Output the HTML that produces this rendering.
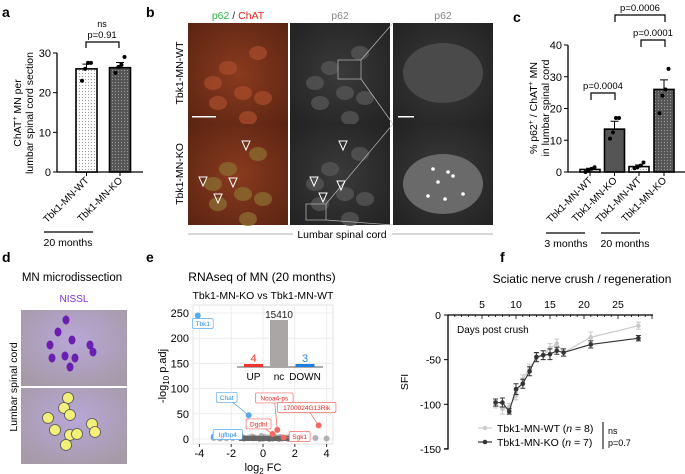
<!DOCTYPE html>
<html><head><meta charset="utf-8"><style>
body{margin:0;background:#fff}
svg{display:block;font-family:"Liberation Sans",Arial,sans-serif}
</style></head><body>
<svg id="fig" width="685" height="474" viewBox="0 0 685 474" xmlns="http://www.w3.org/2000/svg">
<defs>
<pattern id="dots" width="3" height="3" patternUnits="userSpaceOnUse"><rect width="3" height="3" fill="#fff"/><circle cx="1.5" cy="1.5" r="0.6" fill="#999"/></pattern>
<pattern id="dotsDark" width="3" height="3" patternUnits="userSpaceOnUse"><rect width="3" height="3" fill="#555"/><circle cx="1.5" cy="1.5" r="0.6" fill="#999"/></pattern>
<radialGradient id="redBg" cx="50%" cy="50%" r="70%"><stop offset="0" stop-color="#8a3a1e"/><stop offset="1" stop-color="#5a2412"/></radialGradient>
<radialGradient id="grayBg" cx="50%" cy="50%" r="70%"><stop offset="0" stop-color="#3a3a3a"/><stop offset="1" stop-color="#222"/></radialGradient>
<radialGradient id="nissl" cx="50%" cy="40%" r="70%"><stop offset="0" stop-color="#b9a7d8"/><stop offset="1" stop-color="#a59aa6"/></radialGradient>
</defs>
<g id="panelA"></g>
<g id="panelB"></g>
<g id="panelC"></g>
<g id="panelD"></g>
<g id="panelE"></g>
<g id="panelF"></g>
</svg>
<script>
// ---- data ----
const aCategories = ["Tbk1-MN-WT","Tbk1-MN-KO"];
const aMeans = [26, 26.3];
const aErr = [1.2, 1.3];
const aPoints = [[23,26,27.5,27.5],[25,26.5,27,29]];
const aTicks = [0,10,20,30];

const cCategories = ["Tbk1-MN-WT","Tbk1-MN-KO","Tbk1-MN-WT","Tbk1-MN-KO"];
const cMeans = [0.8, 13.5, 1.7, 26];
const cErr = [0.4, 2.5, 0.5, 3];
const cPoints = [[0,0.5,1,1.5],[10.5,12.5,17,17],[1.2,1.5,2,3],[18.5,24,26,32.5]];
const cTicks = [0,10,20,30,40];

const eTicksY = [0,50,100,150,200,250];
const eTicksX = [-4,-2,0,2,4];
const eGrayX = [-3.1,-2.7,-2.3,-1.9,-1.5,-1.3,-1.1,-0.9,-0.7,-0.5,-0.3,-0.1,0.1,0.3,0.5,0.7,0.9,1.1,1.3,1.5,1.7,1.9,2.1,2.3,2.5,2.7,3.3,4.0,-1.2,-0.6,0,0.6,1.2,1.8,2.4,-0.2,0.4,1.0,1.6,2.2];
const eGrayY = [2,1,1.5,2,3,4,2,3,5,3,2,6,4,3,2,5,3,4,2,3,5,2,4,3,2,1.5,2,1,1,1.5,1,1,1.2,1,1.1,0.5,0.6,0.5,0.6,0.5];
const eGenes = ["Tbk1","Chat","Igfbp4","Ncoa4-ps","1700024G13Rik","Dgdhl","Sgk1"];
const eGeneX = [-4.1,-0.9,-3.1,0.9,3.5,0.6,1.3];
const eGeneY = [245,47,5,18,27,10,3];
const eGeneDir = ["down","down","down","up","up","up","up"];
const eInsetCats = ["UP","nc","DOWN"];
const eInsetVals = [4,15410,3];

const fDays = [7,8,9,10,11,12,13,14,15,16,17,21,28];
const fWT = [-100,-105,-103,-90,-72,-60,-48,-45,-37,-32,-42,-25,-12];
const fWTerr = [4,6,4,5,5,5,5,5,5,5,4,6,4];
const fKO = [-98,-98,-108,-83,-77,-63,-47,-45,-44,-40,-42,-33,-26];
const fKOerr = [4,5,3,6,5,5,5,5,6,4,4,4,3];
const fTicksX = [5,10,15,20,25];
const fTicksY = [0,-50,-100,-150];

const NS="http://www.w3.org/2000/svg";
function el(parent,tag,attrs,text){const e=document.createElementNS(NS,tag);for(const k in attrs)e.setAttribute(k,attrs[k]);if(text!==undefined)e.textContent=text;parent.appendChild(e);return e;}

// ---- panel a ----
(function(){
const g=document.getElementById('panelA');
const ya=v=>172-v*(119/30);
const xs=[86.5,120];
let t=el(g,'text',{x:2,y:17,'font-size':14,'font-weight':'bold'},'a');

let ax=el(g,'path',{d:`M57,${ya(30)}V172H143`,stroke:'#000','stroke-width':1.3,fill:'none'});

aTicks.forEach(v=>{el(g,'line',{x1:53,x2:57,y1:ya(v),y2:ya(v),stroke:'#000'});
 let tl=el(g,'text',{x:51,y:ya(v)+4,'font-size':11,'text-anchor':'end'},v);
 });
let yl=el(g,'text',{transform:'translate(21,113) rotate(-90)','font-size':10.5,'text-anchor':'middle'});
yl.innerHTML='<tspan x="0" dy="0">ChAT<tspan font-size="7" dy="-4">+</tspan><tspan dy="4"> MN per</tspan></tspan><tspan x="0" dy="12">lumbar spinal cord section</tspan>';

aMeans.forEach((m,i)=>{
 let b=el(g,'rect',{x:xs[i]-10.5,y:ya(m),width:21,height:172-ya(m),fill:i?'url(#dotsDark)':'url(#dots)',stroke:'#000','stroke-width':1.6});
 
 el(g,'path',{d:`M${xs[i]},${ya(m)}V${ya(m+aErr[i])}M${xs[i]-4},${ya(m+aErr[i])}H${xs[i]+4}`,stroke:'#000','stroke-width':1});
 aPoints[i].forEach((p,j)=>{let c=el(g,'circle',{cx:xs[i]-4.5+j*3,cy:ya(p),r:2,fill:'#000'});});
 el(g,'line',{x1:xs[i],x2:xs[i],y1:172,y2:176,stroke:'#000'});
 let lb=el(g,'text',{transform:`translate(${xs[i]+3},181) rotate(-45)`,'font-size':10,'text-anchor':'end'},aCategories[i]);
 
});
el(g,'path',{d:'M86,48V42H119V48',stroke:'#000',fill:'none','stroke-width':1.2});
el(g,'text',{x:102,y:27,'font-size':9,'text-anchor':'middle'},'ns');
el(g,'text',{x:102,y:38,'font-size':9.5,'text-anchor':'middle'},'p=0.91');
el(g,'line',{x1:44,x2:93,y1:232,y2:232,stroke:'#000','stroke-width':1.2});
let gm=el(g,'text',{x:68,y:246,'font-size':10.5,'text-anchor':'middle'},'20 months');

})();

// ---- panel b (micrographs) ----
(function(){
const g=document.getElementById('panelB');
el(g,'text',{x:146,y:17,'font-size':14,'font-weight':'bold'},'b');
let h=el(g,'text',{x:238,y:19,'font-size':10.5,'text-anchor':'middle'});
h.innerHTML='<tspan fill="#2bb34a">p62</tspan><tspan fill="#222"> / </tspan><tspan fill="#e8251f">ChAT</tspan>';

el(g,'text',{x:340,y:19,'font-size':10.5,fill:'#888','text-anchor':'middle'},'p62');
el(g,'text',{x:443,y:19,'font-size':10.5,fill:'#888','text-anchor':'middle'},'p62');
const cols=[188,290,393], rows=[23,124];
const cells=[[40,45],[70,30],[30,80],[55,70],[75,75],[25,60],[60,95]];
rows.forEach((ry,ri)=>cols.forEach((cx,ci)=>{
 let r=el(g,'rect',{x:cx,y:ry,width:100,height:101,fill:ci===0?'url(#redBg)':'url(#grayBg)'});
 
 if(ci<2){cells.forEach(([a,b])=>el(g,'ellipse',{cx:cx+a,cy:ry+b,rx:9,ry:7,fill:ci===0?(ri?'#8a6a30':'#a44a2a'):'#555',opacity:0.8}));}
 else{el(g,'ellipse',{cx:cx+50,cy:ry+(ri?60:50),rx:40,ry:30,fill:ri?'#6a6a6a':'#4a4a4a'});
  if(ri){[[40,45],[55,48],[60,52],[45,58],[70,70],[35,72],[52,75]].forEach(([a,b])=>el(g,'circle',{cx:cx+a,cy:ry+b,r:1.8,fill:'#fff'}));}}
}));
el(g,'rect',{x:338,y:60,width:23,height:19,fill:'none',stroke:'#aaa','stroke-width':0.8});
el(g,'path',{d:'M361,60L393,23M361,79L393,124',stroke:'#bbb','stroke-width':0.7});
el(g,'rect',{x:306,y:204,width:20,height:16,fill:'none',stroke:'#aaa','stroke-width':0.8});
el(g,'path',{d:'M326,204L393,124M326,220L393,225',stroke:'#bbb','stroke-width':0.7});
el(g,'rect',{x:192,y:116,width:24,height:1.5,fill:'#fff'});
el(g,'rect',{x:398,y:116,width:16,height:1.5,fill:'#fff'});
[[246,146],[203,182],[218,199],[233,183],[343,146],[314,182],[323,198],[341,186]].forEach(([x,y])=>el(g,'path',{d:`M${x-4},${y-5}L${x+4},${y-5}L${x},${y+4}Z`,fill:'none',stroke:'#fff','stroke-width':1}));
let r1=el(g,'text',{transform:'translate(183,73) rotate(-90)','font-size':10.5,'text-anchor':'middle'},'Tbk1-MN-WT');

let r2=el(g,'text',{transform:'translate(183,174) rotate(-90)','font-size':10.5,'text-anchor':'middle'},'Tbk1-MN-KO');

el(g,'path',{d:'M188,234H293M392,234H493',stroke:'#999','stroke-width':0.8});
el(g,'text',{x:342,y:238,'font-size':10.5,'text-anchor':'middle'},'Lumbar spinal cord');
})();

// ---- panel c ----
(function(){
const g=document.getElementById('panelC');
const yc=v=>172-v*(127/40);
const xs=[590,614.5,639,664];
el(g,'text',{x:513,y:22,'font-size':14,'font-weight':'bold'},'c');
el(g,'path',{d:`M568,${yc(40)}V172H685`,stroke:'#000','stroke-width':1.3,fill:'none'});
cTicks.forEach(v=>{el(g,'line',{x1:564,x2:568,y1:yc(v),y2:yc(v),stroke:'#000'});
 let tl=el(g,'text',{x:562,y:yc(v)+4,'font-size':11,'text-anchor':'end'},v);
 });
let yl=el(g,'text',{transform:'translate(537,108) rotate(-90)','font-size':10.5,'text-anchor':'middle'});
yl.innerHTML='<tspan x="0">% p62<tspan font-size="7" dy="-4">+</tspan><tspan dy="4"> / ChAT</tspan><tspan font-size="7" dy="-4">+</tspan><tspan dy="4"> MN</tspan></tspan><tspan x="0" dy="12">in lumbar spinal cord</tspan>';

const fills=['#fff','#555','url(#dots)','url(#dotsDark)'];
cMeans.forEach((m,i)=>{
 let b=el(g,'rect',{x:xs[i]-10,y:yc(m),width:20,height:172-yc(m),fill:fills[i],stroke:'#000','stroke-width':1.6});
 
 el(g,'path',{d:`M${xs[i]},${yc(m)}V${yc(m+cErr[i])}M${xs[i]-4},${yc(m+cErr[i])}H${xs[i]+4}`,stroke:'#000'});
 cPoints[i].forEach((p,j)=>{let c=el(g,'circle',{cx:xs[i]-4.5+j*3,cy:yc(p),r:2,fill:'#000'});});
 el(g,'line',{x1:xs[i],x2:xs[i],y1:172,y2:176,stroke:'#000'});
 let lb=el(g,'text',{transform:`translate(${xs[i]+3},181) rotate(-45)`,'font-size':10,'text-anchor':'end'},cCategories[i]);
 
});
el(g,'path',{d:'M615,22V15H665V22',stroke:'#000',fill:'none','stroke-width':1.2});
el(g,'text',{x:640,y:11,'font-size':9.5,'text-anchor':'middle'},'p=0.0006');
el(g,'path',{d:'M641,47V40H665V47',stroke:'#000',fill:'none','stroke-width':1.2});
el(g,'text',{x:653,y:36,'font-size':9.5,'text-anchor':'middle'},'p=0.0001');
el(g,'path',{d:'M591,100V93H615V100',stroke:'#000',fill:'none','stroke-width':1.2});
el(g,'text',{x:603,y:89,'font-size':9.5,'text-anchor':'middle'},'p=0.0004');
el(g,'path',{d:'M546,233H585M601,233H640',stroke:'#000','stroke-width':1.2});
el(g,'text',{x:566,y:247,'font-size':10.5,'text-anchor':'middle'},'3 months');
el(g,'text',{x:625,y:247,'font-size':10.5,'text-anchor':'middle'},'20 months');
})();

// ---- panel d ----
(function(){
const g=document.getElementById('panelD');
el(g,'text',{x:2,y:262,'font-size':14,'font-weight':'bold'},'d');
el(g,'text',{x:72,y:281,'font-size':11.5,'text-anchor':'middle'},'MN microdissection');
el(g,'text',{x:74,y:302,'font-size':10,fill:'#7b2fd8','text-anchor':'middle'},'NISSL');
let i1=el(g,'rect',{x:21,y:310,width:106,height:76,fill:'url(#nissl)'});

let i2=el(g,'rect',{x:21,y:388,width:106,height:76,fill:'url(#nissl)'});

[[66,320],[58,332],[72,340],[50,345],[65,356],[75,358],[90,345],[93,352],[70,367],[52,358]].forEach(([x,y])=>el(g,'ellipse',{cx:x,cy:y,rx:3.5,ry:4.5,fill:'#6a1fb0'}));
[[68,398],[64,408],[70,415],[48,418],[55,430],[70,435],[77,434],[92,424],[95,432],[66,445]].forEach(([x,y])=>el(g,'ellipse',{cx:x,cy:y,rx:5.5,ry:5.5,fill:'#f2ef7a',stroke:'#555','stroke-width':0.8}));
el(g,'text',{transform:'translate(17,387) rotate(-90)','font-size':10.5,'text-anchor':'middle'},'Lumbar spinal cord');
})();

// ---- panel e ----
(function(){
const g=document.getElementById('panelE');
const xe=v=>263+v*15.9, ye=v=>439-v*(126/250);
el(g,'text',{x:146,y:262,'font-size':14,'font-weight':'bold'},'e');
el(g,'text',{x:262,y:281,'font-size':12,'text-anchor':'middle'},'RNAseq of MN (20 months)');
el(g,'text',{x:263,y:299,'font-size':10.5,'text-anchor':'middle'},'Tbk1-MN-KO vs Tbk1-MN-WT');
let pa=el(g,'rect',{x:193,y:305,width:140,height:139,fill:'#fff',stroke:'#e2e2e2'});

eTicksY.forEach(v=>{el(g,'line',{x1:193,x2:333,y1:ye(v),y2:ye(v),stroke:'#ececec'});
 let t=el(g,'text',{x:189,y:ye(v)+4,'font-size':11,'text-anchor':'end'},v);
 });
eTicksX.forEach(v=>{el(g,'line',{x1:xe(v),x2:xe(v),y1:305,y2:444,stroke:'#ececec'});
 el(g,'line',{x1:xe(v),x2:xe(v),y1:444,y2:447,stroke:'#333'});
 let t=el(g,'text',{x:xe(v),y:457,'font-size':11,'text-anchor':'middle'},v);
 });
let xl=el(g,'text',{x:263,y:471,'font-size':11,'text-anchor':'middle'});
xl.innerHTML='log<tspan font-size="8" dy="3">2</tspan><tspan dy="-3"> FC</tspan>';

let yl=el(g,'text',{transform:'translate(166,376) rotate(-90)','font-size':11,'text-anchor':'middle'});
yl.innerHTML='-log<tspan font-size="8" dy="3">10</tspan><tspan dy="-3"> p.adj</tspan>';

eGrayX.forEach((x,i)=>{let c=el(g,'circle',{cx:xe(x),cy:ye(eGrayY[i]),r:3,fill:i<28?'#aaa':'#666',opacity:0.9});
 });
el(g,'rect',{x:xe(-1.5),y:ye(6),width:xe(2.8)-xe(-1.5),height:ye(0)-ye(6)+2,fill:'#666'});
const lbl={Tbk1:[5,8],Chat:[-22,-18],Igfbp4:[14,-2],'Ncoa4-ps':[-3,-32],'1700024G13Rik':[-12,-18],Dgdhl:[-14,-10],Sgk1:[16,-1]};
eGenes.forEach((n,i)=>{
 const cx=xe(eGeneX[i]),cy=ye(eGeneY[i]),col=eGeneDir[i]==='up'?'#f26b63':'#5aa9ec',tc=eGeneDir[i]==='up'?'#e8251f':'#2b8be0';
 let c=el(g,'circle',{cx,cy,r:3,fill:col});
 const [dx,dy]=lbl[n];const w=n.length*4.2+4;
 el(g,'line',{x1:cx,y1:cy,x2:cx+dx,y2:cy+dy,stroke:col,'stroke-width':0.7});
 el(g,'rect',{x:cx+dx-w/2,y:cy+dy-5,width:w,height:10,rx:1.5,fill:'#fff',stroke:col,'stroke-width':0.7});
 let t=el(g,'text',{x:cx+dx,y:cy+dy+2.5,'font-size':6.5,fill:tc,'text-anchor':'middle'},n);
 
});
// inset
const ix=[253.5,279,305], ih=v=>Math.max(3,v/15410*47);
el(g,'line',{x1:237,x2:323,y1:367,y2:367,stroke:'#555','stroke-width':1});
const icol=['#f0342d','#aaa6a5','#1e7de0'], tcol=['#f0342d','#222','#2b8be0'];
eInsetVals.forEach((v,i)=>{
 const w=i===1?18:19;
 let b=el(g,'rect',{x:ix[i]-w/2,y:367-ih(v),width:w,height:ih(v),fill:icol[i]});
 
 el(g,'text',{x:ix[i],y:367-ih(v)-2,'font-size':i===1?10:11,fill:tcol[i],'text-anchor':'middle'},v);
 el(g,'text',{x:ix[i],y:380,'font-size':10,'text-anchor':'middle'},eInsetCats[i]);
});
})();

// ---- panel f ----
(function(){
const g=document.getElementById('panelF');
const xf=d=>448+d*6.8, yf=v=>315-v*0.893;
el(g,'text',{x:500,y:262,'font-size':14,'font-weight':'bold'},'f');
el(g,'text',{x:582,y:283,'font-size':12,'text-anchor':'middle'},'Sciatic nerve crush / regeneration');
el(g,'path',{d:`M448,315H653M448,315V${yf(-150)}H444`,stroke:'#000','stroke-width':1.3,fill:'none'});
for(let d=1;d<=30;d++){el(g,'line',{x1:xf(d),x2:xf(d),y1:315,y2:d%5?317:319,stroke:'#000','stroke-width':0.8});}
fTicksX.forEach(v=>{let t=el(g,'text',{x:xf(v),y:308,'font-size':10.5,'text-anchor':'middle'},v);
 });
fTicksY.forEach(v=>{el(g,'line',{x1:444,x2:448,y1:yf(v),y2:yf(v),stroke:'#000'});
 let t=el(g,'text',{x:441,y:yf(v)+4,'font-size':10.5,'text-anchor':'end'},v);
 });
el(g,'text',{x:457,y:333,'font-size':10}, 'Days post crush');
let yl=el(g,'text',{transform:`translate(408,${yf(-75)}) rotate(-90)`,'font-size':10.5,'text-anchor':'middle'},'SFI');

function series(vals,errs,col,name){
 let p=el(g,'polyline',{points:fDays.map((d,i)=>xf(d)+','+yf(vals[i])).join(' '),fill:'none',stroke:col,'stroke-width':1.1});
 
 fDays.forEach((d,i)=>{const x=xf(d),y=yf(vals[i]),e=errs[i]*0.893;
  el(g,'path',{d:`M${x},${y-e}V${y+e}M${x-2.5},${y-e}H${x+2.5}M${x-2.5},${y+e}H${x+2.5}`,stroke:col,'stroke-width':1});
  let c=el(g,'circle',{cx:x,cy:y,r:2.3,fill:col});});
}
series(fWT,fWTerr,'#c8c8c8','wt');
series(fKO,fKOerr,'#333','ko');
el(g,'line',{x1:478,x2:492,y1:428,y2:428,stroke:'#ccc','stroke-width':1.2});el(g,'circle',{cx:485,cy:428,r:2.3,fill:'#ccc'});
el(g,'line',{x1:478,x2:492,y1:442,y2:442,stroke:'#333','stroke-width':1.2});el(g,'circle',{cx:485,cy:442,r:2.3,fill:'#333'});
let l1=el(g,'text',{x:497,y:432,'font-size':10.5});l1.innerHTML='Tbk1-MN-WT (<tspan font-style="italic">n</tspan> = 8)';

let l2=el(g,'text',{x:497,y:446,'font-size':10.5});l2.innerHTML='Tbk1-MN-KO (<tspan font-style="italic">n</tspan> = 7)';

el(g,'line',{x1:603,x2:603,y1:422,y2:449,stroke:'#000'});
el(g,'text',{x:608,y:434,'font-size':9},'ns');
el(g,'text',{x:608,y:446,'font-size':9},'p=0.7');
})();
</script>
</body></html>
